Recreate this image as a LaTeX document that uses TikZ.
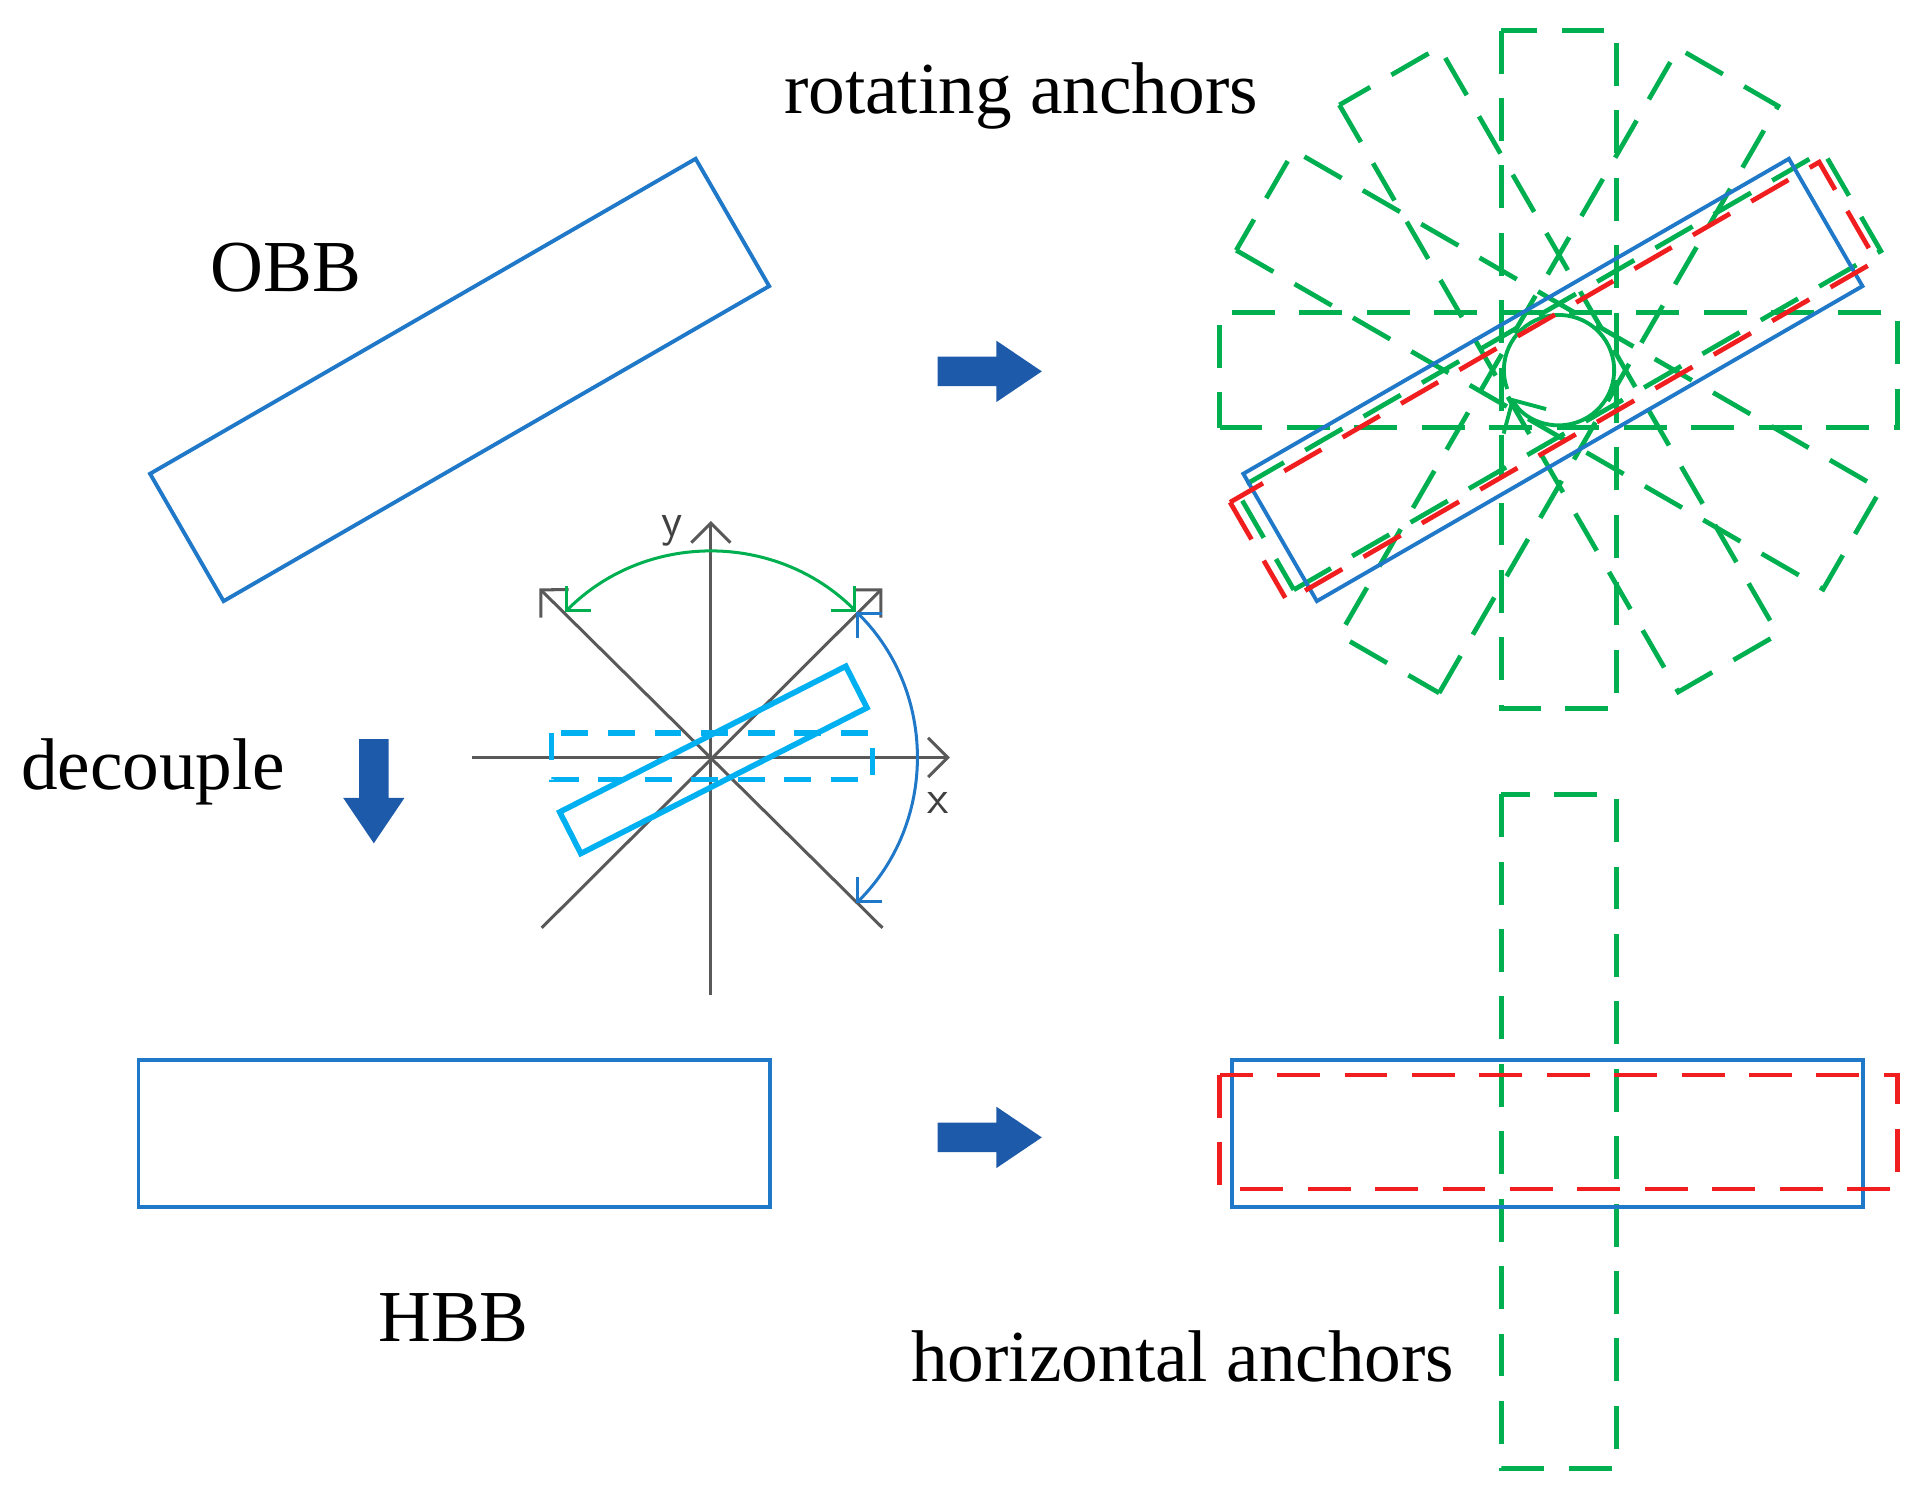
\documentclass[tikz,border=0pt]{standalone}
\usepackage{fontspec}
\setmainfont{Liberation Serif}
\usetikzlibrary{arrows.meta}
\definecolor{bl}{RGB}{32,120,200}
\definecolor{cy}{RGB}{0,176,240}
\definecolor{gr}{RGB}{0,176,80}
\definecolor{rd}{RGB}{240,30,30}
\definecolor{ab}{RGB}{30,90,170}
\begin{document}
\begin{tikzpicture}[x=0.1mm,y=-0.1mm,
  box/.style={draw=bl,line width=0.9pt},
  anc/.style={draw=gr,line width=1.1pt,dash pattern=on 3.5mm off 2mm},
  red/.style={draw=rd,line width=1.1pt,dash pattern=on 3.5mm off 2mm},
  lab/.style={font=\fontsize{17}{20}\selectfont,inner sep=0},
  ax/.style={draw=black!65,line width=0.7pt}]
\useasboundingbox (0,0) rectangle (1560,1217);
% texts
\node[lab] (t1) at (833,78) {rotating anchors};
\node[lab] (t2) at (233,218) {OBB};
\node[lab] (t3) at (125,630) {decouple};
\node[lab] (t4) at (370,1075) {HBB};
\node[lab] (t5) at (965,1107) {horizontal anchors};
% left OBB
\draw[box,rotate around={30:(375,310)}] (118,250) rectangle (632,370);
% HBB
\draw[box] (113,865) rectangle (628,985);
% block arrows
\foreach \p/\r in {{(765,303)}/0,{(765,928)}/0,{(305,603)}/-90}
  \fill[ab,shift={\p},rotate=\r] (0,-12) -- (48,-12) -- (48,-25) -- (85,0) -- (48,25) -- (48,12) -- (0,12) -- cycle;
% rotating anchors
\foreach \a in {0,30,60,90,120,150}
  \draw[anc,rotate around={\a:(1272,302)}] (1225,25) rectangle (1319,578);
\draw[gr,line width=0.9pt,-{Straight Barb[length=2mm]}] (1272,302) ++(-200:45) arc[start angle=-200,end angle=150,radius=45];
\draw[box,rotate around={30:(1267,310)}] (1010,250) rectangle (1524,370);
\draw[red,rotate around={30:(1267,312)}] (990,265) rectangle (1545,358);
% horizontal anchors
\draw[anc] (1225,648) rectangle (1319,1198);
\draw[box] (1005,865) rectangle (1520,985);
\draw[red] (995,877) rectangle (1548,970);
% axes
\coordinate (o) at (580,618);
\draw[ax,-{Straight Barb[length=1.6mm]}] (385,618) -- (775,618);
\draw[ax,-{Straight Barb[length=1.6mm]}] (580,812) -- (580,425);
\draw[ax,-{Straight Barb[length=1.6mm]}] (442,757) -- (720,480);
\draw[ax,-{Straight Barb[length=1.6mm]}] (720,757) -- (440,480);
\node[font=\fontsize{11}{12}\selectfont\sffamily,text=black!75] (ly) at (548,433) {y};
\node[font=\fontsize{11}{12}\selectfont\sffamily,text=black!75] (lx) at (765,655) {x};
\draw[draw=gr,line width=0.7pt,{Straight Barb[length=1.4mm]}-{Straight Barb[length=1.4mm]}] (o) ++(-135:168) arc[start angle=-135,end angle=-45,radius=168];
\draw[draw=bl,line width=0.7pt,{Straight Barb[length=1.4mm]}-{Straight Barb[length=1.4mm]}] (o) ++(-45:168) arc[start angle=-45,end angle=45,radius=168];
\draw[draw=cy,line width=1.3pt,rotate around={27:(582,620)}] (451,601) rectangle (713,639);
\draw[draw=cy,line width=1.3pt,dash pattern=on 2.2mm off 1.6mm] (450,598) rectangle (712,636);
\end{tikzpicture}
\end{document}
